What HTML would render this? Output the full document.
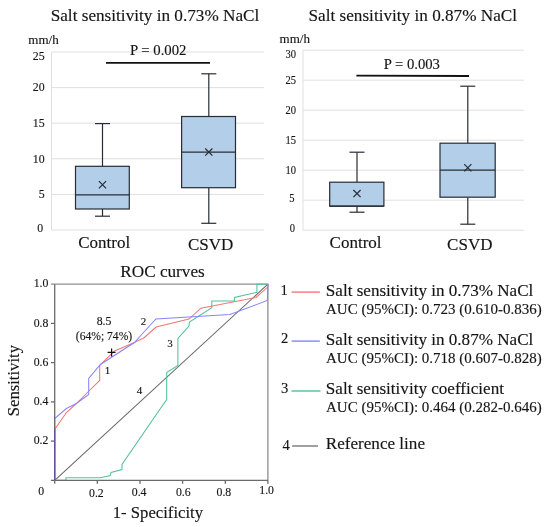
<!DOCTYPE html>
<html><head><meta charset="utf-8"><title>Salt sensitivity</title>
<style>
html,body{margin:0;padding:0;background:#fff}
svg{display:block;font-family:"Liberation Serif",serif}
.g{stroke:#dfdfdf;stroke-width:1;fill:none}
.bs{stroke:#272c35;stroke-width:1.2;fill:none}
.bx{fill:#b3cee8;stroke:#272c35;stroke-width:1.2}
.ax{stroke:#6a6a6a;stroke-width:1.3;fill:none}
.ax2{stroke:#8e8e8e;stroke-width:1.3;fill:none}
.c{fill:none;stroke-width:1.05;stroke-linejoin:miter}
text{fill:#141414;stroke:#141414;stroke-width:0.14}
</style></head><body>
<svg width="550" height="527" viewBox="0 0 550 527">
<rect width="550" height="527" fill="#fff" stroke="none"/>

<line x1="51.5" y1="230.0" x2="264" y2="230.0" class="g"/>
<text transform="translate(43.2,231.8) scale(0.9,1)" font-size="13.2" text-anchor="end">0</text>
<line x1="51.5" y1="194.4" x2="264" y2="194.4" class="g"/>
<text transform="translate(44.6,198.2) scale(0.9,1)" font-size="13.2" text-anchor="end">5</text>
<line x1="51.5" y1="158.8" x2="264" y2="158.8" class="g"/>
<text transform="translate(44.6,162.6) scale(0.9,1)" font-size="13.2" text-anchor="end">10</text>
<line x1="51.5" y1="123.2" x2="264" y2="123.2" class="g"/>
<text transform="translate(44.6,127.0) scale(0.9,1)" font-size="13.2" text-anchor="end">15</text>
<line x1="51.5" y1="87.6" x2="264" y2="87.6" class="g"/>
<text transform="translate(44.6,91.4) scale(0.9,1)" font-size="13.2" text-anchor="end">20</text>
<line x1="51.5" y1="52.0" x2="264" y2="52.0" class="g"/>
<text transform="translate(44.6,59.7) scale(0.9,1)" font-size="13.2" text-anchor="end">25</text>
<line x1="51.5" y1="52.0" x2="51.5" y2="230.0" class="g"/>
<text x="155" y="20.6" font-size="17.2" text-anchor="middle">Salt sensitivity in 0.73% NaCl</text>
<text x="28.3" y="44" font-size="13">mm/h</text>
<text x="158.2" y="55.3" font-size="14.75" text-anchor="middle">P = 0.002</text>
<line x1="106" y1="62.8" x2="210" y2="62.9" stroke="#111" stroke-width="1.8"/>
<line x1="102.5" y1="123.6" x2="102.5" y2="166.3" class="bs"/>
<line x1="102.5" y1="209.0" x2="102.5" y2="216.2" class="bs"/>
<line x1="95.0" y1="123.6" x2="110.0" y2="123.6" class="bs"/>
<line x1="95.0" y1="216.2" x2="110.0" y2="216.2" class="bs"/>
<rect x="75.5" y="166.3" width="53.8" height="42.7" class="bx"/>
<line x1="75.5" y1="194.8" x2="129.3" y2="194.8" class="bs"/>
<path d="M98.9 181.2L106.1 188.4M98.9 188.4L106.1 181.2" class="bs"/>
<line x1="208.8" y1="73.8" x2="208.8" y2="116.5" class="bs"/>
<line x1="208.8" y1="187.7" x2="208.8" y2="223.3" class="bs"/>
<line x1="201.3" y1="73.8" x2="216.3" y2="73.8" class="bs"/>
<line x1="201.3" y1="223.3" x2="216.3" y2="223.3" class="bs"/>
<rect x="181.6" y="116.5" width="53.9" height="71.2" class="bx"/>
<line x1="181.6" y1="152.1" x2="235.5" y2="152.1" class="bs"/>
<path d="M205.2 148.5L212.4 155.7M205.2 155.7L212.4 148.5" class="bs"/>
<text x="104.2" y="248.2" font-size="17" text-anchor="middle">Control</text>
<text x="210.7" y="249.9" font-size="17" text-anchor="middle">CSVD</text>
<line x1="303" y1="230.2" x2="523.7" y2="230.2" class="g"/>
<text transform="translate(295.0,232.0) scale(0.81,1)" font-size="13" text-anchor="end">0</text>
<line x1="303" y1="200.2" x2="523.7" y2="200.2" class="g"/>
<text transform="translate(294.4,201.5) scale(0.81,1)" font-size="13" text-anchor="end">5</text>
<line x1="303" y1="170.2" x2="523.7" y2="170.2" class="g"/>
<text transform="translate(296.0,174.0) scale(0.81,1)" font-size="13" text-anchor="end">10</text>
<line x1="303" y1="140.2" x2="523.7" y2="140.2" class="g"/>
<text transform="translate(296.0,144.0) scale(0.81,1)" font-size="13" text-anchor="end">15</text>
<line x1="303" y1="110.2" x2="523.7" y2="110.2" class="g"/>
<text transform="translate(296.0,114.0) scale(0.81,1)" font-size="13" text-anchor="end">20</text>
<line x1="303" y1="80.2" x2="523.7" y2="80.2" class="g"/>
<text transform="translate(296.0,84.0) scale(0.81,1)" font-size="13" text-anchor="end">25</text>
<line x1="303" y1="50.2" x2="523.7" y2="50.2" class="g"/>
<text transform="translate(296.0,58.0) scale(0.81,1)" font-size="13" text-anchor="end">30</text>
<line x1="303" y1="50.2" x2="303" y2="230.2" class="g"/>
<text x="412.8" y="20.6" font-size="17.2" text-anchor="middle">Salt sensitivity in 0.87% NaCl</text>
<text x="279.6" y="43" font-size="13">mm/h</text>
<text x="411.8" y="69" font-size="14.7" text-anchor="middle">P = 0.003</text>
<line x1="356.4" y1="75.7" x2="469" y2="76" stroke="#111" stroke-width="1.8"/>
<line x1="357" y1="152.2" x2="357" y2="182.2" class="bs"/>
<line x1="357" y1="206.2" x2="357" y2="212.2" class="bs"/>
<line x1="349.5" y1="152.2" x2="364.5" y2="152.2" class="bs"/>
<line x1="349.5" y1="212.2" x2="364.5" y2="212.2" class="bs"/>
<rect x="329.7" y="182.2" width="54.2" height="24.0" class="bx"/>
<line x1="329.7" y1="206.2" x2="383.9" y2="206.2" class="bs"/>
<path d="M353.4 190.0L360.6 197.2M353.4 197.2L360.6 190.0" class="bs"/>
<line x1="467.8" y1="86.2" x2="467.8" y2="143.2" class="bs"/>
<line x1="467.8" y1="197.2" x2="467.8" y2="224.2" class="bs"/>
<line x1="460.3" y1="86.2" x2="475.3" y2="86.2" class="bs"/>
<line x1="460.3" y1="224.2" x2="475.3" y2="224.2" class="bs"/>
<rect x="440" y="143.2" width="55.2" height="54.0" class="bx"/>
<line x1="440" y1="170.2" x2="495.2" y2="170.2" class="bs"/>
<path d="M464.2 164.2L471.4 171.4M464.2 171.4L471.4 164.2" class="bs"/>
<text x="355.6" y="248.2" font-size="17" text-anchor="middle">Control</text>
<text x="469.8" y="250.3" font-size="17" text-anchor="middle">CSVD</text>
<text x="162.5" y="277.4" font-size="17.2" text-anchor="middle">ROC curves</text>
<g transform="translate(0.4,0.5)">
<path d="M50.5 283.7H267.5V479.8" class="ax2"/>
<path d="M54.3 479.8L267.5 283.7" class="c" stroke="#666"/>
<path d="M54.3 479.8L65.6 479.8L65.6 477.2L100 477.2L110 475L110.6 472L121.6 469L121.6 464L160 408L166.3 399L166.3 372L177.5 365L177.5 338L188.6 325.5L189 321.6L211.4 307.3L211.4 300.5L234 300.5L234 297L256.5 291.8L256.5 283.7L267.5 283.7" class="c" stroke="#4fc29e"/>
<path d="M54.3 479.8L54.3 429L66 412L76 403L88 391L99.3 380L99.3 365L113.7 350.8L134 342L144 337L155.7 326.6L188.6 318.6L200.5 307.7L255.7 297L267 286.8L267.5 283.7" class="c" stroke="#f27878"/>
<path d="M54.3 479.8L54.3 418L66 408L76 403L88.3 394L88.3 378L100 364L134 342L144 331L155.5 318.5L229.5 314L267 300L267.5 283.7" class="c" stroke="#8585ff"/>
<path d="M54.3 283.7V479.8M50.5 479.8H267.5" class="ax"/>
<path d="M54.3 429V479.8" stroke="#5e48a6" stroke-width="1.1" fill="none"/>
<line x1="54.3" y1="479.8" x2="54.3" y2="483.2" class="ax"/>
<line x1="50.5" y1="440.6" x2="54.3" y2="440.6" class="ax"/>
<text transform="translate(48.0,443.8) scale(0.9,1)" font-size="13.1" text-anchor="end">0.2</text>
<text transform="translate(96.0,496.7) scale(0.9,1)" font-size="13.1" text-anchor="middle">0.2</text>
<line x1="96.9" y1="479.8" x2="96.9" y2="483.2" class="ax"/>
<line x1="50.5" y1="401.4" x2="54.3" y2="401.4" class="ax"/>
<text transform="translate(48.0,404.6) scale(0.9,1)" font-size="13.1" text-anchor="end">0.4</text>
<text transform="translate(138.7,495.7) scale(0.9,1)" font-size="13.1" text-anchor="middle">0.4</text>
<line x1="139.6" y1="479.8" x2="139.6" y2="483.2" class="ax"/>
<line x1="50.5" y1="362.1" x2="54.3" y2="362.1" class="ax"/>
<text transform="translate(48.0,365.3) scale(0.9,1)" font-size="13.1" text-anchor="end">0.6</text>
<text transform="translate(182.9,495.9) scale(0.9,1)" font-size="13.1" text-anchor="middle">0.6</text>
<line x1="182.2" y1="479.8" x2="182.2" y2="483.2" class="ax"/>
<line x1="50.5" y1="322.9" x2="54.3" y2="322.9" class="ax"/>
<text transform="translate(48.0,326.1) scale(0.9,1)" font-size="13.1" text-anchor="end">0.8</text>
<text transform="translate(223.5,495.9) scale(0.9,1)" font-size="13.1" text-anchor="middle">0.8</text>
<line x1="224.9" y1="479.8" x2="224.9" y2="483.2" class="ax"/>
<text transform="translate(48.0,286.9) scale(0.9,1)" font-size="13.1" text-anchor="end">1.0</text>
<text transform="translate(266.2,493.8) scale(0.9,1)" font-size="13.1" text-anchor="middle">1.0</text>
<line x1="267.5" y1="479.8" x2="267.5" y2="483.2" class="ax"/>
<text transform="translate(40.7,494.6) scale(0.9,1)" font-size="13.1" text-anchor="middle">0</text>
</g>
<text x="157.9" y="518.2" font-size="16.7" text-anchor="middle">1- Specificity</text>
<text transform="translate(19.3,380.6) rotate(-90)" font-size="16.65" text-anchor="middle">Sensitivity</text>
<text x="104" y="324.7" font-size="11.8" text-anchor="middle">8.5</text>
<text x="104" y="339.6" font-size="11.6" text-anchor="middle">(64%; 74%)</text>
<path d="M107.6 352.4H115.6M111.6 348.4V356.4" stroke="#111" stroke-width="1.2" fill="none"/>
<text x="107.6" y="373.8" font-size="11" text-anchor="middle">1</text>
<text x="143.4" y="324.5" font-size="11" text-anchor="middle">2</text>
<text x="170" y="347" font-size="11" text-anchor="middle">3</text>
<text x="139.4" y="394" font-size="11" text-anchor="middle">4</text>
<text x="280.6" y="295.1" font-size="14.6">1</text>
<line x1="291.6" y1="292.1" x2="319.9" y2="292.1" stroke="#f27878" stroke-width="1.4"/>
<text x="325.8" y="296" font-size="17.1">Salt sensitivity in 0.73% NaCl</text>
<text x="326" y="314" font-size="15">AUC (95%CI): 0.723 (0.610-0.836)</text>
<text x="281" y="342.8" font-size="14.6">2</text>
<line x1="291.6" y1="341.1" x2="319.9" y2="341.1" stroke="#8585ff" stroke-width="1.4"/>
<text x="325.8" y="345" font-size="17.1">Salt sensitivity in 0.87% NaCl</text>
<text x="326" y="363" font-size="15">AUC (95%CI): 0.718 (0.607-0.828)</text>
<text x="281" y="393.4" font-size="14.6">3</text>
<line x1="291.4" y1="391" x2="320.5" y2="391" stroke="#4fc29e" stroke-width="1.4"/>
<text x="325.8" y="394" font-size="17.1">Salt sensitivity coefficient</text>
<text x="326" y="412" font-size="15">AUC (95%CI): 0.464 (0.282-0.646)</text>
<text x="282.5" y="450" font-size="14.6">4</text>
<line x1="292.1" y1="446" x2="318" y2="446" stroke="#777" stroke-width="1.4"/>
<text x="325.8" y="449" font-size="17.1">Reference line</text>
</svg></body></html>
